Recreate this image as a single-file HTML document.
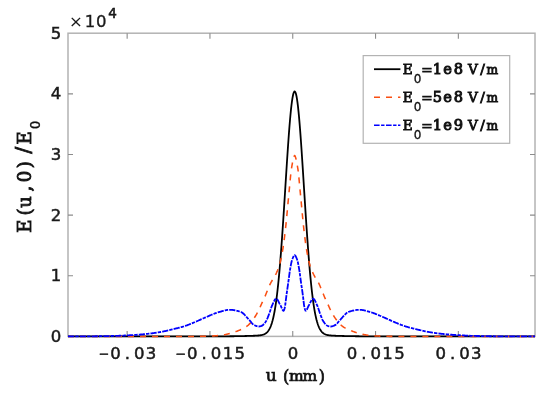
<!DOCTYPE html><html><head><meta charset="utf-8"><style>html,body{margin:0;padding:0;background:#fff;width:550px;height:397px;overflow:hidden}svg{display:block}</style></head><body><svg width="550" height="397" viewBox="0 0 550 397">
<rect width="550" height="397" fill="#fff"/>
<defs><clipPath id="ax"><rect x="68.0" y="31.200000000000003" width="467.0" height="307.2"/></clipPath></defs>
<g stroke="#b3b3b3" stroke-width="1.5" fill="none">
<rect x="68.0" y="33.2" width="467.0" height="303.2"/>
<path d="M127.15 336.4V330.9M127.15 33.2V38.7M209.95 336.4V330.9M209.95 33.2V38.7M292.75 336.4V330.9M292.75 33.2V38.7M375.55 336.4V330.9M375.55 33.2V38.7M458.35 336.4V330.9M458.35 33.2V38.7M68.0 275.76H73.0M535.0 275.76H530.0M68.0 215.12H73.0M535.0 215.12H530.0M68.0 154.48H73.0M535.0 154.48H530.0M68.0 93.84H73.0M535.0 93.84H530.0" stroke="#8c8c8c" stroke-width="1.1"/>
</g>
<g clip-path="url(#ax)" fill="none" stroke-width="1.7" stroke-linejoin="round">
<path d="M68.0 336.40 L68.5 336.40 L69.0 336.40 L69.5 336.40 L70.0 336.40 L70.5 336.40 L71.0 336.40 L71.5 336.40 L72.0 336.40 L72.5 336.40 L73.0 336.40 L73.5 336.40 L74.0 336.40 L74.5 336.40 L75.0 336.40 L75.5 336.40 L76.0 336.40 L76.5 336.40 L77.0 336.40 L77.5 336.40 L78.0 336.40 L78.5 336.40 L79.0 336.40 L79.5 336.40 L80.0 336.40 L80.5 336.40 L81.0 336.40 L81.5 336.40 L82.0 336.40 L82.5 336.40 L83.0 336.40 L83.5 336.40 L84.0 336.40 L84.5 336.40 L85.0 336.40 L85.5 336.40 L86.0 336.40 L86.5 336.40 L87.0 336.40 L87.5 336.40 L88.0 336.40 L88.5 336.40 L89.0 336.40 L89.5 336.40 L90.0 336.40 L90.5 336.40 L91.0 336.40 L91.5 336.40 L92.0 336.40 L92.5 336.40 L93.0 336.40 L93.5 336.40 L94.0 336.40 L94.5 336.40 L95.0 336.40 L95.5 336.40 L96.0 336.40 L96.5 336.40 L97.0 336.40 L97.5 336.40 L98.0 336.40 L98.5 336.40 L99.0 336.40 L99.5 336.40 L100.0 336.40 L100.5 336.40 L101.0 336.40 L101.5 336.40 L102.0 336.40 L102.5 336.40 L103.0 336.40 L103.5 336.40 L104.0 336.40 L104.5 336.40 L105.0 336.40 L105.5 336.40 L106.0 336.40 L106.5 336.40 L107.0 336.40 L107.5 336.40 L108.0 336.40 L108.5 336.40 L109.0 336.40 L109.5 336.40 L110.0 336.40 L110.5 336.40 L111.0 336.40 L111.5 336.40 L112.0 336.40 L112.5 336.40 L113.0 336.40 L113.5 336.40 L114.0 336.40 L114.5 336.40 L115.0 336.40 L115.5 336.40 L116.0 336.40 L116.5 336.40 L117.0 336.40 L117.5 336.40 L118.0 336.40 L118.5 336.40 L119.0 336.40 L119.5 336.40 L120.0 336.40 L120.5 336.40 L121.0 336.40 L121.5 336.40 L122.0 336.40 L122.5 336.40 L123.0 336.40 L123.5 336.40 L124.0 336.40 L124.5 336.40 L125.0 336.40 L125.5 336.40 L126.0 336.40 L126.5 336.40 L127.0 336.40 L127.5 336.40 L128.0 336.40 L128.5 336.40 L129.0 336.40 L129.5 336.40 L130.0 336.40 L130.5 336.40 L131.0 336.40 L131.5 336.40 L132.0 336.40 L132.5 336.40 L133.0 336.40 L133.5 336.40 L134.0 336.40 L134.5 336.40 L135.0 336.40 L135.5 336.40 L136.0 336.40 L136.5 336.40 L137.0 336.40 L137.5 336.40 L138.0 336.40 L138.5 336.40 L139.0 336.40 L139.5 336.40 L140.0 336.40 L140.5 336.40 L141.0 336.40 L141.5 336.40 L142.0 336.40 L142.5 336.40 L143.0 336.40 L143.5 336.40 L144.0 336.40 L144.5 336.40 L145.0 336.40 L145.5 336.40 L146.0 336.40 L146.5 336.40 L147.0 336.40 L147.5 336.40 L148.0 336.40 L148.5 336.40 L149.0 336.40 L149.5 336.40 L150.0 336.40 L150.5 336.40 L151.0 336.40 L151.5 336.40 L152.0 336.40 L152.5 336.40 L153.0 336.40 L153.5 336.40 L154.0 336.40 L154.5 336.40 L155.0 336.40 L155.5 336.40 L156.0 336.40 L156.5 336.40 L157.0 336.40 L157.5 336.40 L158.0 336.40 L158.5 336.40 L159.0 336.40 L159.5 336.40 L160.0 336.40 L160.5 336.40 L161.0 336.40 L161.5 336.40 L162.0 336.40 L162.5 336.40 L163.0 336.40 L163.5 336.40 L164.0 336.40 L164.5 336.40 L165.0 336.40 L165.5 336.40 L166.0 336.40 L166.5 336.40 L167.0 336.40 L167.5 336.40 L168.0 336.40 L168.5 336.40 L169.0 336.40 L169.5 336.40 L170.0 336.40 L170.5 336.40 L171.0 336.40 L171.5 336.40 L172.0 336.40 L172.5 336.40 L173.0 336.40 L173.5 336.40 L174.0 336.40 L174.5 336.40 L175.0 336.40 L175.5 336.40 L176.0 336.40 L176.5 336.40 L177.0 336.40 L177.5 336.40 L178.0 336.40 L178.5 336.40 L179.0 336.40 L179.5 336.40 L180.0 336.40 L180.5 336.40 L181.0 336.40 L181.5 336.40 L182.0 336.40 L182.5 336.40 L183.0 336.40 L183.5 336.40 L184.0 336.40 L184.5 336.40 L185.0 336.40 L185.5 336.40 L186.0 336.40 L186.5 336.40 L187.0 336.40 L187.5 336.40 L188.0 336.40 L188.5 336.40 L189.0 336.40 L189.5 336.40 L190.0 336.40 L190.5 336.40 L191.0 336.40 L191.5 336.40 L192.0 336.40 L192.5 336.40 L193.0 336.40 L193.5 336.40 L194.0 336.40 L194.5 336.40 L195.0 336.40 L195.5 336.40 L196.0 336.40 L196.5 336.40 L197.0 336.40 L197.5 336.40 L198.0 336.40 L198.5 336.39 L199.0 336.39 L199.5 336.39 L200.0 336.39 L200.5 336.39 L201.0 336.39 L201.5 336.39 L202.0 336.39 L202.5 336.39 L203.0 336.39 L203.5 336.39 L204.0 336.39 L204.5 336.39 L205.0 336.39 L205.5 336.39 L206.0 336.39 L206.5 336.39 L207.0 336.39 L207.5 336.39 L208.0 336.38 L208.5 336.38 L209.0 336.38 L209.5 336.38 L210.0 336.38 L210.5 336.38 L211.0 336.38 L211.5 336.38 L212.0 336.38 L212.5 336.38 L213.0 336.37 L213.5 336.37 L214.0 336.37 L214.5 336.37 L215.0 336.37 L215.5 336.37 L216.0 336.36 L216.5 336.36 L217.0 336.36 L217.5 336.36 L218.0 336.36 L218.5 336.35 L219.0 336.35 L219.5 336.35 L220.0 336.35 L220.5 336.35 L221.0 336.34 L221.5 336.34 L222.0 336.34 L222.5 336.33 L223.0 336.33 L223.5 336.33 L224.0 336.32 L224.5 336.32 L225.0 336.32 L225.5 336.31 L226.0 336.31 L226.5 336.31 L227.0 336.30 L227.5 336.30 L228.0 336.29 L228.5 336.29 L229.0 336.28 L229.5 336.28 L230.0 336.27 L230.5 336.27 L231.0 336.26 L231.5 336.26 L232.0 336.25 L232.5 336.25 L233.0 336.24 L233.5 336.23 L234.0 336.23 L234.5 336.22 L235.0 336.21 L235.5 336.20 L236.0 336.20 L236.5 336.19 L237.0 336.18 L237.5 336.17 L238.0 336.17 L238.5 336.16 L239.0 336.15 L239.5 336.14 L240.0 336.13 L240.5 336.12 L241.0 336.11 L241.5 336.10 L242.0 336.09 L242.5 336.08 L243.0 336.07 L243.5 336.06 L244.0 336.05 L244.5 336.03 L245.0 336.02 L245.5 336.01 L246.0 336.00 L246.5 335.98 L247.0 335.97 L247.5 335.96 L248.0 335.95 L248.5 335.93 L249.0 335.92 L249.5 335.90 L250.0 335.89 L250.5 335.87 L251.0 335.86 L251.5 335.84 L252.0 335.82 L252.5 335.81 L253.0 335.79 L253.5 335.77 L254.0 335.75 L254.5 335.73 L255.0 335.71 L255.5 335.68 L256.0 335.66 L256.5 335.63 L257.0 335.60 L257.5 335.56 L258.0 335.52 L258.5 335.48 L259.0 335.43 L259.5 335.38 L260.0 335.32 L260.5 335.25 L261.0 335.17 L261.5 335.07 L262.0 334.97 L262.5 334.84 L263.0 334.70 L263.5 334.53 L264.0 334.34 L264.5 334.11 L265.0 333.85 L265.5 333.55 L266.0 333.21 L266.5 332.81 L267.0 332.36 L267.5 331.83 L268.0 331.24 L268.5 330.56 L269.0 329.78 L269.5 328.91 L270.0 327.91 L270.5 326.80 L271.0 325.54 L271.5 324.13 L272.0 322.56 L272.5 320.81 L273.0 318.87 L273.5 316.72 L274.0 314.35 L274.5 311.74 L275.0 308.89 L275.5 305.77 L276.0 302.39 L276.5 298.72 L277.0 294.75 L277.5 290.48 L278.0 285.91 L278.5 281.02 L279.0 275.83 L279.5 270.32 L280.0 264.50 L280.5 258.38 L281.0 251.97 L281.5 245.29 L282.0 238.34 L282.5 231.16 L283.0 223.78 L283.5 216.20 L284.0 208.48 L284.5 200.65 L285.0 192.75 L285.5 184.81 L286.0 176.89 L286.5 169.03 L287.0 161.28 L287.5 153.69 L288.0 146.32 L288.5 139.22 L289.0 132.43 L289.5 126.01 L290.0 120.01 L290.5 114.48 L291.0 109.45 L291.5 104.98 L292.0 101.10 L292.5 97.83 L293.0 95.21 L293.5 93.27 L294.0 92.01 L294.5 91.45 L295.0 91.59 L295.5 92.43 L296.0 93.97 L296.5 96.18 L297.0 99.06 L297.5 102.58 L298.0 106.70 L298.5 111.40 L299.0 116.63 L299.5 122.36 L300.0 128.53 L300.5 135.10 L301.0 142.02 L301.5 149.24 L302.0 156.70 L302.5 164.36 L303.0 172.16 L303.5 180.05 L304.0 187.98 L304.5 195.91 L305.0 203.80 L305.5 211.59 L306.0 219.25 L306.5 226.75 L307.0 234.06 L307.5 241.15 L308.0 247.99 L308.5 254.57 L309.0 260.86 L309.5 266.86 L310.0 272.56 L310.5 277.94 L311.0 283.02 L311.5 287.78 L312.0 292.23 L312.5 296.37 L313.0 300.22 L313.5 303.77 L314.0 307.05 L314.5 310.06 L315.0 312.81 L315.5 315.32 L316.0 317.60 L316.5 319.67 L317.0 321.53 L317.5 323.21 L318.0 324.72 L318.5 326.06 L319.0 327.26 L319.5 328.33 L320.0 329.27 L320.5 330.10 L321.0 330.84 L321.5 331.49 L322.0 332.05 L322.5 332.55 L323.0 332.98 L323.5 333.35 L324.0 333.68 L324.5 333.96 L325.0 334.21 L325.5 334.42 L326.0 334.60 L326.5 334.76 L327.0 334.89 L327.5 335.01 L328.0 335.11 L328.5 335.20 L329.0 335.28 L329.5 335.34 L330.0 335.40 L330.5 335.45 L331.0 335.50 L331.5 335.54 L332.0 335.58 L332.5 335.61 L333.0 335.64 L333.5 335.67 L334.0 335.69 L334.5 335.71 L335.0 335.74 L335.5 335.76 L336.0 335.78 L336.5 335.79 L337.0 335.81 L337.5 335.83 L338.0 335.85 L338.5 335.86 L339.0 335.88 L339.5 335.89 L340.0 335.91 L340.5 335.92 L341.0 335.94 L341.5 335.95 L342.0 335.96 L342.5 335.98 L343.0 335.99 L343.5 336.00 L344.0 336.01 L344.5 336.03 L345.0 336.04 L345.5 336.05 L346.0 336.06 L346.5 336.07 L347.0 336.08 L347.5 336.09 L348.0 336.10 L348.5 336.11 L349.0 336.12 L349.5 336.13 L350.0 336.14 L350.5 336.15 L351.0 336.16 L351.5 336.17 L352.0 336.18 L352.5 336.18 L353.0 336.19 L353.5 336.20 L354.0 336.21 L354.5 336.21 L355.0 336.22 L355.5 336.23 L356.0 336.24 L356.5 336.24 L357.0 336.25 L357.5 336.25 L358.0 336.26 L358.5 336.26 L359.0 336.27 L359.5 336.28 L360.0 336.28 L360.5 336.29 L361.0 336.29 L361.5 336.29 L362.0 336.30 L362.5 336.30 L363.0 336.31 L363.5 336.31 L364.0 336.32 L364.5 336.32 L365.0 336.32 L365.5 336.33 L366.0 336.33 L366.5 336.33 L367.0 336.34 L367.5 336.34 L368.0 336.34 L368.5 336.34 L369.0 336.35 L369.5 336.35 L370.0 336.35 L370.5 336.35 L371.0 336.36 L371.5 336.36 L372.0 336.36 L372.5 336.36 L373.0 336.36 L373.5 336.37 L374.0 336.37 L374.5 336.37 L375.0 336.37 L375.5 336.37 L376.0 336.37 L376.5 336.37 L377.0 336.38 L377.5 336.38 L378.0 336.38 L378.5 336.38 L379.0 336.38 L379.5 336.38 L380.0 336.38 L380.5 336.38 L381.0 336.38 L381.5 336.39 L382.0 336.39 L382.5 336.39 L383.0 336.39 L383.5 336.39 L384.0 336.39 L384.5 336.39 L385.0 336.39 L385.5 336.39 L386.0 336.39 L386.5 336.39 L387.0 336.39 L387.5 336.39 L388.0 336.39 L388.5 336.39 L389.0 336.39 L389.5 336.39 L390.0 336.39 L390.5 336.39 L391.0 336.40 L391.5 336.40 L392.0 336.40 L392.5 336.40 L393.0 336.40 L393.5 336.40 L394.0 336.40 L394.5 336.40 L395.0 336.40 L395.5 336.40 L396.0 336.40 L396.5 336.40 L397.0 336.40 L397.5 336.40 L398.0 336.40 L398.5 336.40 L399.0 336.40 L399.5 336.40 L400.0 336.40 L400.5 336.40 L401.0 336.40 L401.5 336.40 L402.0 336.40 L402.5 336.40 L403.0 336.40 L403.5 336.40 L404.0 336.40 L404.5 336.40 L405.0 336.40 L405.5 336.40 L406.0 336.40 L406.5 336.40 L407.0 336.40 L407.5 336.40 L408.0 336.40 L408.5 336.40 L409.0 336.40 L409.5 336.40 L410.0 336.40 L410.5 336.40 L411.0 336.40 L411.5 336.40 L412.0 336.40 L412.5 336.40 L413.0 336.40 L413.5 336.40 L414.0 336.40 L414.5 336.40 L415.0 336.40 L415.5 336.40 L416.0 336.40 L416.5 336.40 L417.0 336.40 L417.5 336.40 L418.0 336.40 L418.5 336.40 L419.0 336.40 L419.5 336.40 L420.0 336.40 L420.5 336.40 L421.0 336.40 L421.5 336.40 L422.0 336.40 L422.5 336.40 L423.0 336.40 L423.5 336.40 L424.0 336.40 L424.5 336.40 L425.0 336.40 L425.5 336.40 L426.0 336.40 L426.5 336.40 L427.0 336.40 L427.5 336.40 L428.0 336.40 L428.5 336.40 L429.0 336.40 L429.5 336.40 L430.0 336.40 L430.5 336.40 L431.0 336.40 L431.5 336.40 L432.0 336.40 L432.5 336.40 L433.0 336.40 L433.5 336.40 L434.0 336.40 L434.5 336.40 L435.0 336.40 L435.5 336.40 L436.0 336.40 L436.5 336.40 L437.0 336.40 L437.5 336.40 L438.0 336.40 L438.5 336.40 L439.0 336.40 L439.5 336.40 L440.0 336.40 L440.5 336.40 L441.0 336.40 L441.5 336.40 L442.0 336.40 L442.5 336.40 L443.0 336.40 L443.5 336.40 L444.0 336.40 L444.5 336.40 L445.0 336.40 L445.5 336.40 L446.0 336.40 L446.5 336.40 L447.0 336.40 L447.5 336.40 L448.0 336.40 L448.5 336.40 L449.0 336.40 L449.5 336.40 L450.0 336.40 L450.5 336.40 L451.0 336.40 L451.5 336.40 L452.0 336.40 L452.5 336.40 L453.0 336.40 L453.5 336.40 L454.0 336.40 L454.5 336.40 L455.0 336.40 L455.5 336.40 L456.0 336.40 L456.5 336.40 L457.0 336.40 L457.5 336.40 L458.0 336.40 L458.5 336.40 L459.0 336.40 L459.5 336.40 L460.0 336.40 L460.5 336.40 L461.0 336.40 L461.5 336.40 L462.0 336.40 L462.5 336.40 L463.0 336.40 L463.5 336.40 L464.0 336.40 L464.5 336.40 L465.0 336.40 L465.5 336.40 L466.0 336.40 L466.5 336.40 L467.0 336.40 L467.5 336.40 L468.0 336.40 L468.5 336.40 L469.0 336.40 L469.5 336.40 L470.0 336.40 L470.5 336.40 L471.0 336.40 L471.5 336.40 L472.0 336.40 L472.5 336.40 L473.0 336.40 L473.5 336.40 L474.0 336.40 L474.5 336.40 L475.0 336.40 L475.5 336.40 L476.0 336.40 L476.5 336.40 L477.0 336.40 L477.5 336.40 L478.0 336.40 L478.5 336.40 L479.0 336.40 L479.5 336.40 L480.0 336.40 L480.5 336.40 L481.0 336.40 L481.5 336.40 L482.0 336.40 L482.5 336.40 L483.0 336.40 L483.5 336.40 L484.0 336.40 L484.5 336.40 L485.0 336.40 L485.5 336.40 L486.0 336.40 L486.5 336.40 L487.0 336.40 L487.5 336.40 L488.0 336.40 L488.5 336.40 L489.0 336.40 L489.5 336.40 L490.0 336.40 L490.5 336.40 L491.0 336.40 L491.5 336.40 L492.0 336.40 L492.5 336.40 L493.0 336.40 L493.5 336.40 L494.0 336.40 L494.5 336.40 L495.0 336.40 L495.5 336.40 L496.0 336.40 L496.5 336.40 L497.0 336.40 L497.5 336.40 L498.0 336.40 L498.5 336.40 L499.0 336.40 L499.5 336.40 L500.0 336.40 L500.5 336.40 L501.0 336.40 L501.5 336.40 L502.0 336.40 L502.5 336.40 L503.0 336.40 L503.5 336.40 L504.0 336.40 L504.5 336.40 L505.0 336.40 L505.5 336.40 L506.0 336.40 L506.5 336.40 L507.0 336.40 L507.5 336.40 L508.0 336.40 L508.5 336.40 L509.0 336.40 L509.5 336.40 L510.0 336.40 L510.5 336.40 L511.0 336.40 L511.5 336.40 L512.0 336.40 L512.5 336.40 L513.0 336.40 L513.5 336.40 L514.0 336.40 L514.5 336.40 L515.0 336.40 L515.5 336.40 L516.0 336.40 L516.5 336.40 L517.0 336.40 L517.5 336.40 L518.0 336.40 L518.5 336.40 L519.0 336.40 L519.5 336.40 L520.0 336.40 L520.5 336.40 L521.0 336.40 L521.5 336.40 L522.0 336.40 L522.5 336.40 L523.0 336.40 L523.5 336.40 L524.0 336.40 L524.5 336.40 L525.0 336.40 L525.5 336.40 L526.0 336.40 L526.5 336.40 L527.0 336.40 L527.5 336.40 L528.0 336.40 L528.5 336.40 L529.0 336.40 L529.5 336.40 L530.0 336.40 L530.5 336.40 L531.0 336.40 L531.5 336.40 L532.0 336.40 L532.5 336.40 L533.0 336.40 L533.5 336.40 L534.0 336.40 L534.5 336.40 L535.0 336.40" stroke="#000" stroke-width="1.8"/>
<path d="M68.0 336.40 L68.5 336.40 L69.0 336.40 L69.5 336.40 L70.0 336.40 L70.5 336.40 L71.0 336.40 L71.5 336.40 L72.0 336.40 L72.5 336.40 L73.0 336.40 L73.5 336.40 L74.0 336.40 L74.5 336.40 L75.0 336.40 L75.5 336.40 L76.0 336.40 L76.5 336.40 L77.0 336.40 L77.5 336.40 L78.0 336.40 L78.5 336.40 L79.0 336.40 L79.5 336.40 L80.0 336.40 L80.5 336.40 L81.0 336.40 L81.5 336.40 L82.0 336.40 L82.5 336.40 L83.0 336.40 L83.5 336.40 L84.0 336.40 L84.5 336.40 L85.0 336.40 L85.5 336.40 L86.0 336.40 L86.5 336.40 L87.0 336.40 L87.5 336.40 L88.0 336.40 L88.5 336.40 L89.0 336.40 L89.5 336.40 L90.0 336.40 L90.5 336.40 L91.0 336.40 L91.5 336.40 L92.0 336.40 L92.5 336.40 L93.0 336.40 L93.5 336.40 L94.0 336.40 L94.5 336.40 L95.0 336.40 L95.5 336.40 L96.0 336.40 L96.5 336.40 L97.0 336.40 L97.5 336.40 L98.0 336.40 L98.5 336.40 L99.0 336.40 L99.5 336.40 L100.0 336.40 L100.5 336.40 L101.0 336.40 L101.5 336.40 L102.0 336.40 L102.5 336.40 L103.0 336.40 L103.5 336.40 L104.0 336.40 L104.5 336.40 L105.0 336.40 L105.5 336.40 L106.0 336.40 L106.5 336.40 L107.0 336.40 L107.5 336.40 L108.0 336.40 L108.5 336.40 L109.0 336.40 L109.5 336.40 L110.0 336.40 L110.5 336.40 L111.0 336.40 L111.5 336.40 L112.0 336.40 L112.5 336.40 L113.0 336.40 L113.5 336.40 L114.0 336.40 L114.5 336.40 L115.0 336.40 L115.5 336.40 L116.0 336.40 L116.5 336.40 L117.0 336.40 L117.5 336.40 L118.0 336.40 L118.5 336.40 L119.0 336.40 L119.5 336.40 L120.0 336.40 L120.5 336.40 L121.0 336.40 L121.5 336.40 L122.0 336.40 L122.5 336.40 L123.0 336.40 L123.5 336.40 L124.0 336.40 L124.5 336.40 L125.0 336.40 L125.5 336.40 L126.0 336.40 L126.5 336.40 L127.0 336.40 L127.5 336.40 L128.0 336.40 L128.5 336.40 L129.0 336.40 L129.5 336.40 L130.0 336.40 L130.5 336.40 L131.0 336.40 L131.5 336.40 L132.0 336.40 L132.5 336.40 L133.0 336.40 L133.5 336.40 L134.0 336.40 L134.5 336.40 L135.0 336.40 L135.5 336.40 L136.0 336.40 L136.5 336.40 L137.0 336.40 L137.5 336.40 L138.0 336.40 L138.5 336.40 L139.0 336.40 L139.5 336.40 L140.0 336.40 L140.5 336.40 L141.0 336.40 L141.5 336.40 L142.0 336.40 L142.5 336.40 L143.0 336.40 L143.5 336.40 L144.0 336.40 L144.5 336.40 L145.0 336.40 L145.5 336.40 L146.0 336.40 L146.5 336.40 L147.0 336.40 L147.5 336.40 L148.0 336.40 L148.5 336.40 L149.0 336.40 L149.5 336.40 L150.0 336.40 L150.5 336.40 L151.0 336.40 L151.5 336.40 L152.0 336.40 L152.5 336.40 L153.0 336.40 L153.5 336.40 L154.0 336.40 L154.5 336.40 L155.0 336.40 L155.5 336.40 L156.0 336.40 L156.5 336.40 L157.0 336.40 L157.5 336.40 L158.0 336.40 L158.5 336.40 L159.0 336.40 L159.5 336.40 L160.0 336.40 L160.5 336.40 L161.0 336.40 L161.5 336.40 L162.0 336.40 L162.5 336.40 L163.0 336.40 L163.5 336.40 L164.0 336.40 L164.5 336.40 L165.0 336.40 L165.5 336.40 L166.0 336.40 L166.5 336.40 L167.0 336.40 L167.5 336.40 L168.0 336.40 L168.5 336.40 L169.0 336.40 L169.5 336.40 L170.0 336.40 L170.5 336.40 L171.0 336.40 L171.5 336.40 L172.0 336.40 L172.5 336.40 L173.0 336.40 L173.5 336.40 L174.0 336.40 L174.5 336.40 L175.0 336.40 L175.5 336.40 L176.0 336.40 L176.5 336.40 L177.0 336.40 L177.5 336.40 L178.0 336.40 L178.5 336.40 L179.0 336.40 L179.5 336.40 L180.0 336.40 L180.5 336.40 L181.0 336.40 L181.5 336.40 L182.0 336.40 L182.5 336.40 L183.0 336.40 L183.5 336.40 L184.0 336.40 L184.5 336.40 L185.0 336.40 L185.5 336.40 L186.0 336.40 L186.5 336.40 L187.0 336.40 L187.5 336.40 L188.0 336.40 L188.5 336.40 L189.0 336.40 L189.5 336.40 L190.0 336.40 L190.5 336.40 L191.0 336.40 L191.5 336.40 L192.0 336.40 L192.5 336.40 L193.0 336.40 L193.5 336.40 L194.0 336.40 L194.5 336.40 L195.0 336.40 L195.5 336.40 L196.0 336.40 L196.5 336.39 L197.0 336.39 L197.5 336.39 L198.0 336.38 L198.5 336.38 L199.0 336.37 L199.5 336.36 L200.0 336.36 L200.5 336.35 L201.0 336.34 L201.5 336.34 L202.0 336.33 L202.5 336.32 L203.0 336.31 L203.5 336.30 L204.0 336.29 L204.5 336.28 L205.0 336.27 L205.5 336.26 L206.0 336.25 L206.5 336.23 L207.0 336.22 L207.5 336.20 L208.0 336.18 L208.5 336.16 L209.0 336.14 L209.5 336.12 L210.0 336.10 L210.5 336.08 L211.0 336.05 L211.5 336.03 L212.0 336.00 L212.5 335.98 L213.0 335.95 L213.5 335.92 L214.0 335.89 L214.5 335.86 L215.0 335.83 L215.5 335.80 L216.0 335.76 L216.5 335.73 L217.0 335.69 L217.5 335.64 L218.0 335.60 L218.5 335.55 L219.0 335.50 L219.5 335.45 L220.0 335.39 L220.5 335.33 L221.0 335.27 L221.5 335.20 L222.0 335.13 L222.5 335.06 L223.0 334.98 L223.5 334.90 L224.0 334.82 L224.5 334.73 L225.0 334.64 L225.5 334.54 L226.0 334.44 L226.5 334.33 L227.0 334.21 L227.5 334.09 L228.0 333.97 L228.5 333.85 L229.0 333.72 L229.5 333.59 L230.0 333.46 L230.5 333.32 L231.0 333.18 L231.5 333.03 L232.0 332.89 L232.5 332.73 L233.0 332.58 L233.5 332.41 L234.0 332.25 L234.5 332.08 L235.0 331.91 L235.5 331.74 L236.0 331.55 L236.5 331.36 L237.0 331.17 L237.5 330.98 L238.0 330.78 L238.5 330.58 L239.0 330.38 L239.5 330.18 L240.0 329.98 L240.5 329.78 L241.0 329.57 L241.5 329.36 L242.0 329.13 L242.5 328.89 L243.0 328.64 L243.5 328.38 L244.0 328.10 L244.5 327.81 L245.0 327.51 L245.5 327.19 L246.0 326.86 L246.5 326.50 L247.0 326.13 L247.5 325.73 L248.0 325.31 L248.5 324.87 L249.0 324.40 L249.5 323.90 L250.0 323.39 L250.5 322.86 L251.0 322.30 L251.5 321.71 L252.0 321.08 L252.5 320.41 L253.0 319.72 L253.5 319.01 L254.0 318.28 L254.5 317.53 L255.0 316.76 L255.5 315.97 L256.0 315.14 L256.5 314.29 L257.0 313.42 L257.5 312.51 L258.0 311.58 L258.5 310.62 L259.0 309.62 L259.5 308.54 L260.0 307.41 L260.5 306.26 L261.0 305.11 L261.5 303.98 L262.0 302.90 L262.5 301.85 L263.0 300.82 L263.5 299.78 L264.0 298.72 L264.5 297.62 L265.0 296.48 L265.5 295.29 L266.0 294.06 L266.5 292.82 L267.0 291.58 L267.5 290.37 L268.0 289.17 L268.5 287.94 L269.0 286.71 L269.5 285.51 L270.0 284.38 L270.5 283.33 L271.0 282.40 L271.5 281.56 L272.0 280.78 L272.5 280.03 L273.0 279.26 L273.5 278.44 L274.0 277.57 L274.5 276.68 L275.0 275.77 L275.5 274.82 L276.0 273.82 L276.5 272.76 L277.0 271.63 L277.5 270.44 L278.0 269.17 L278.5 267.82 L279.0 266.35 L279.5 264.75 L280.0 262.98 L280.5 261.00 L281.0 258.82 L281.5 256.43 L282.0 253.86 L282.5 251.10 L283.0 248.10 L283.5 244.73 L284.0 241.03 L284.5 237.06 L285.0 232.88 L285.5 228.56 L286.0 224.04 L286.5 219.09 L287.0 213.85 L287.5 208.45 L288.0 203.07 L288.5 197.85 L289.0 192.73 L289.5 187.31 L290.0 181.86 L290.5 176.66 L291.0 172.04 L291.5 168.28 L292.0 165.40 L292.5 162.73 L293.0 160.30 L293.5 158.21 L294.0 156.57 L294.5 155.45 L295.0 155.83 L295.5 157.17 L296.0 159.00 L296.5 161.23 L297.0 163.77 L297.5 166.52 L298.0 169.66 L298.5 173.80 L299.0 178.69 L299.5 184.02 L300.0 189.50 L300.5 194.82 L301.0 199.91 L301.5 205.21 L302.0 210.62 L302.5 215.97 L303.0 221.12 L303.5 225.91 L304.0 230.30 L304.5 234.57 L305.0 238.67 L305.5 242.54 L306.0 246.12 L306.5 249.35 L307.0 252.22 L307.5 254.91 L308.0 257.41 L308.5 259.71 L309.0 261.82 L309.5 263.71 L310.0 265.41 L310.5 266.95 L311.0 268.37 L311.5 269.69 L312.0 270.92 L312.5 272.08 L313.0 273.19 L313.5 274.23 L314.0 275.21 L314.5 276.14 L315.0 277.04 L315.5 277.92 L316.0 278.78 L316.5 279.57 L317.0 280.33 L317.5 281.09 L318.0 281.89 L318.5 282.76 L319.0 283.73 L319.5 284.82 L320.0 285.99 L320.5 287.20 L321.0 288.43 L321.5 289.65 L322.0 290.85 L322.5 292.08 L323.0 293.32 L323.5 294.55 L324.0 295.77 L324.5 296.94 L325.0 298.07 L325.5 299.14 L326.0 300.19 L326.5 301.23 L327.0 302.27 L327.5 303.33 L328.0 304.43 L328.5 305.57 L329.0 306.72 L329.5 307.87 L330.0 308.98 L330.5 310.03 L331.0 311.01 L331.5 311.96 L332.0 312.88 L332.5 313.77 L333.0 314.64 L333.5 315.48 L334.0 316.29 L334.5 317.07 L335.0 317.83 L335.5 318.57 L336.0 319.30 L336.5 320.00 L337.0 320.68 L337.5 321.33 L338.0 321.95 L338.5 322.53 L339.0 323.07 L339.5 323.60 L340.0 324.10 L340.5 324.59 L341.0 325.05 L341.5 325.48 L342.0 325.90 L342.5 326.28 L343.0 326.65 L343.5 326.99 L344.0 327.32 L344.5 327.63 L345.0 327.93 L345.5 328.21 L346.0 328.49 L346.5 328.74 L347.0 328.99 L347.5 329.22 L348.0 329.44 L348.5 329.66 L349.0 329.86 L349.5 330.06 L350.0 330.26 L350.5 330.46 L351.0 330.66 L351.5 330.86 L352.0 331.05 L352.5 331.25 L353.0 331.44 L353.5 331.63 L354.0 331.81 L354.5 331.98 L355.0 332.15 L355.5 332.32 L356.0 332.48 L356.5 332.64 L357.0 332.79 L357.5 332.95 L358.0 333.09 L358.5 333.24 L359.0 333.38 L359.5 333.51 L360.0 333.64 L360.5 333.77 L361.0 333.90 L361.5 334.02 L362.0 334.14 L362.5 334.26 L363.0 334.37 L363.5 334.48 L364.0 334.58 L364.5 334.67 L365.0 334.76 L365.5 334.85 L366.0 334.93 L366.5 335.01 L367.0 335.09 L367.5 335.16 L368.0 335.23 L368.5 335.30 L369.0 335.36 L369.5 335.41 L370.0 335.47 L370.5 335.52 L371.0 335.57 L371.5 335.61 L372.0 335.66 L372.5 335.70 L373.0 335.74 L373.5 335.78 L374.0 335.81 L374.5 335.85 L375.0 335.87 L375.5 335.90 L376.0 335.93 L376.5 335.96 L377.0 335.99 L377.5 336.01 L378.0 336.04 L378.5 336.06 L379.0 336.09 L379.5 336.11 L380.0 336.13 L380.5 336.15 L381.0 336.17 L381.5 336.19 L382.0 336.21 L382.5 336.22 L383.0 336.24 L383.5 336.25 L384.0 336.27 L384.5 336.28 L385.0 336.29 L385.5 336.29 L386.0 336.30 L386.5 336.31 L387.0 336.32 L387.5 336.33 L388.0 336.34 L388.5 336.35 L389.0 336.35 L389.5 336.36 L390.0 336.37 L390.5 336.37 L391.0 336.38 L391.5 336.38 L392.0 336.39 L392.5 336.39 L393.0 336.40 L393.5 336.40 L394.0 336.40 L394.5 336.40 L395.0 336.40 L395.5 336.40 L396.0 336.40 L396.5 336.40 L397.0 336.40 L397.5 336.40 L398.0 336.40 L398.5 336.40 L399.0 336.40 L399.5 336.40 L400.0 336.40 L400.5 336.40 L401.0 336.40 L401.5 336.40 L402.0 336.40 L402.5 336.40 L403.0 336.40 L403.5 336.40 L404.0 336.40 L404.5 336.40 L405.0 336.40 L405.5 336.40 L406.0 336.40 L406.5 336.40 L407.0 336.40 L407.5 336.40 L408.0 336.40 L408.5 336.40 L409.0 336.40 L409.5 336.40 L410.0 336.40 L410.5 336.40 L411.0 336.40 L411.5 336.40 L412.0 336.40 L412.5 336.40 L413.0 336.40 L413.5 336.40 L414.0 336.40 L414.5 336.40 L415.0 336.40 L415.5 336.40 L416.0 336.40 L416.5 336.40 L417.0 336.40 L417.5 336.40 L418.0 336.40 L418.5 336.40 L419.0 336.40 L419.5 336.40 L420.0 336.40 L420.5 336.40 L421.0 336.40 L421.5 336.40 L422.0 336.40 L422.5 336.40 L423.0 336.40 L423.5 336.40 L424.0 336.40 L424.5 336.40 L425.0 336.40 L425.5 336.40 L426.0 336.40 L426.5 336.40 L427.0 336.40 L427.5 336.40 L428.0 336.40 L428.5 336.40 L429.0 336.40 L429.5 336.40 L430.0 336.40 L430.5 336.40 L431.0 336.40 L431.5 336.40 L432.0 336.40 L432.5 336.40 L433.0 336.40 L433.5 336.40 L434.0 336.40 L434.5 336.40 L435.0 336.40 L435.5 336.40 L436.0 336.40 L436.5 336.40 L437.0 336.40 L437.5 336.40 L438.0 336.40 L438.5 336.40 L439.0 336.40 L439.5 336.40 L440.0 336.40 L440.5 336.40 L441.0 336.40 L441.5 336.40 L442.0 336.40 L442.5 336.40 L443.0 336.40 L443.5 336.40 L444.0 336.40 L444.5 336.40 L445.0 336.40 L445.5 336.40 L446.0 336.40 L446.5 336.40 L447.0 336.40 L447.5 336.40 L448.0 336.40 L448.5 336.40 L449.0 336.40 L449.5 336.40 L450.0 336.40 L450.5 336.40 L451.0 336.40 L451.5 336.40 L452.0 336.40 L452.5 336.40 L453.0 336.40 L453.5 336.40 L454.0 336.40 L454.5 336.40 L455.0 336.40 L455.5 336.40 L456.0 336.40 L456.5 336.40 L457.0 336.40 L457.5 336.40 L458.0 336.40 L458.5 336.40 L459.0 336.40 L459.5 336.40 L460.0 336.40 L460.5 336.40 L461.0 336.40 L461.5 336.40 L462.0 336.40 L462.5 336.40 L463.0 336.40 L463.5 336.40 L464.0 336.40 L464.5 336.40 L465.0 336.40 L465.5 336.40 L466.0 336.40 L466.5 336.40 L467.0 336.40 L467.5 336.40 L468.0 336.40 L468.5 336.40 L469.0 336.40 L469.5 336.40 L470.0 336.40 L470.5 336.40 L471.0 336.40 L471.5 336.40 L472.0 336.40 L472.5 336.40 L473.0 336.40 L473.5 336.40 L474.0 336.40 L474.5 336.40 L475.0 336.40 L475.5 336.40 L476.0 336.40 L476.5 336.40 L477.0 336.40 L477.5 336.40 L478.0 336.40 L478.5 336.40 L479.0 336.40 L479.5 336.40 L480.0 336.40 L480.5 336.40 L481.0 336.40 L481.5 336.40 L482.0 336.40 L482.5 336.40 L483.0 336.40 L483.5 336.40 L484.0 336.40 L484.5 336.40 L485.0 336.40 L485.5 336.40 L486.0 336.40 L486.5 336.40 L487.0 336.40 L487.5 336.40 L488.0 336.40 L488.5 336.40 L489.0 336.40 L489.5 336.40 L490.0 336.40 L490.5 336.40 L491.0 336.40 L491.5 336.40 L492.0 336.40 L492.5 336.40 L493.0 336.40 L493.5 336.40 L494.0 336.40 L494.5 336.40 L495.0 336.40 L495.5 336.40 L496.0 336.40 L496.5 336.40 L497.0 336.40 L497.5 336.40 L498.0 336.40 L498.5 336.40 L499.0 336.40 L499.5 336.40 L500.0 336.40 L500.5 336.40 L501.0 336.40 L501.5 336.40 L502.0 336.40 L502.5 336.40 L503.0 336.40 L503.5 336.40 L504.0 336.40 L504.5 336.40 L505.0 336.40 L505.5 336.40 L506.0 336.40 L506.5 336.40 L507.0 336.40 L507.5 336.40 L508.0 336.40 L508.5 336.40 L509.0 336.40 L509.5 336.40 L510.0 336.40 L510.5 336.40 L511.0 336.40 L511.5 336.40 L512.0 336.40 L512.5 336.40 L513.0 336.40 L513.5 336.40 L514.0 336.40 L514.5 336.40 L515.0 336.40 L515.5 336.40 L516.0 336.40 L516.5 336.40 L517.0 336.40 L517.5 336.40 L518.0 336.40 L518.5 336.40 L519.0 336.40 L519.5 336.40 L520.0 336.40 L520.5 336.40 L521.0 336.40 L521.5 336.40 L522.0 336.40 L522.5 336.40 L523.0 336.40 L523.5 336.40 L524.0 336.40 L524.5 336.40 L525.0 336.40 L525.5 336.40 L526.0 336.40 L526.5 336.40 L527.0 336.40 L527.5 336.40 L528.0 336.40 L528.5 336.40 L529.0 336.40 L529.5 336.40 L530.0 336.40 L530.5 336.40 L531.0 336.40 L531.5 336.40 L532.0 336.40 L532.5 336.40 L533.0 336.40 L533.5 336.40 L534.0 336.40 L534.5 336.40 L535.0 336.40" stroke="#fa4f12" stroke-dasharray="6 6" stroke-width="1.55"/>
<path d="M68.0 336.40 L68.5 336.40 L69.0 336.40 L69.5 336.40 L70.0 336.40 L70.5 336.39 L71.0 336.39 L71.5 336.39 L72.0 336.39 L72.5 336.39 L73.0 336.39 L73.5 336.39 L74.0 336.39 L74.5 336.38 L75.0 336.38 L75.5 336.38 L76.0 336.38 L76.5 336.38 L77.0 336.38 L77.5 336.37 L78.0 336.37 L78.5 336.37 L79.0 336.37 L79.5 336.37 L80.0 336.36 L80.5 336.36 L81.0 336.36 L81.5 336.36 L82.0 336.35 L82.5 336.35 L83.0 336.35 L83.5 336.35 L84.0 336.34 L84.5 336.34 L85.0 336.34 L85.5 336.34 L86.0 336.33 L86.5 336.33 L87.0 336.33 L87.5 336.32 L88.0 336.32 L88.5 336.32 L89.0 336.32 L89.5 336.31 L90.0 336.31 L90.5 336.31 L91.0 336.30 L91.5 336.30 L92.0 336.30 L92.5 336.29 L93.0 336.29 L93.5 336.29 L94.0 336.28 L94.5 336.28 L95.0 336.28 L95.5 336.27 L96.0 336.27 L96.5 336.26 L97.0 336.26 L97.5 336.25 L98.0 336.25 L98.5 336.24 L99.0 336.24 L99.5 336.23 L100.0 336.22 L100.5 336.22 L101.0 336.21 L101.5 336.20 L102.0 336.19 L102.5 336.18 L103.0 336.18 L103.5 336.17 L104.0 336.16 L104.5 336.15 L105.0 336.14 L105.5 336.13 L106.0 336.12 L106.5 336.11 L107.0 336.10 L107.5 336.09 L108.0 336.08 L108.5 336.07 L109.0 336.05 L109.5 336.04 L110.0 336.03 L110.5 336.02 L111.0 336.01 L111.5 336.00 L112.0 335.98 L112.5 335.97 L113.0 335.96 L113.5 335.94 L114.0 335.93 L114.5 335.92 L115.0 335.91 L115.5 335.89 L116.0 335.88 L116.5 335.86 L117.0 335.84 L117.5 335.83 L118.0 335.81 L118.5 335.79 L119.0 335.77 L119.5 335.75 L120.0 335.73 L120.5 335.71 L121.0 335.69 L121.5 335.66 L122.0 335.64 L122.5 335.62 L123.0 335.59 L123.5 335.57 L124.0 335.55 L124.5 335.52 L125.0 335.50 L125.5 335.47 L126.0 335.44 L126.5 335.42 L127.0 335.39 L127.5 335.36 L128.0 335.34 L128.5 335.31 L129.0 335.28 L129.5 335.26 L130.0 335.23 L130.5 335.20 L131.0 335.17 L131.5 335.14 L132.0 335.11 L132.5 335.08 L133.0 335.05 L133.5 335.02 L134.0 334.98 L134.5 334.95 L135.0 334.91 L135.5 334.88 L136.0 334.84 L136.5 334.81 L137.0 334.77 L137.5 334.73 L138.0 334.69 L138.5 334.66 L139.0 334.62 L139.5 334.58 L140.0 334.54 L140.5 334.50 L141.0 334.45 L141.5 334.41 L142.0 334.37 L142.5 334.32 L143.0 334.28 L143.5 334.23 L144.0 334.19 L144.5 334.14 L145.0 334.09 L145.5 334.04 L146.0 333.99 L146.5 333.94 L147.0 333.89 L147.5 333.84 L148.0 333.79 L148.5 333.73 L149.0 333.67 L149.5 333.62 L150.0 333.56 L150.5 333.50 L151.0 333.44 L151.5 333.38 L152.0 333.32 L152.5 333.25 L153.0 333.18 L153.5 333.12 L154.0 333.05 L154.5 332.97 L155.0 332.90 L155.5 332.83 L156.0 332.75 L156.5 332.67 L157.0 332.59 L157.5 332.51 L158.0 332.43 L158.5 332.35 L159.0 332.26 L159.5 332.18 L160.0 332.09 L160.5 332.00 L161.0 331.91 L161.5 331.82 L162.0 331.73 L162.5 331.64 L163.0 331.54 L163.5 331.44 L164.0 331.34 L164.5 331.23 L165.0 331.12 L165.5 331.01 L166.0 330.90 L166.5 330.79 L167.0 330.67 L167.5 330.56 L168.0 330.44 L168.5 330.32 L169.0 330.20 L169.5 330.08 L170.0 329.95 L170.5 329.83 L171.0 329.71 L171.5 329.59 L172.0 329.46 L172.5 329.34 L173.0 329.22 L173.5 329.10 L174.0 328.98 L174.5 328.86 L175.0 328.74 L175.5 328.62 L176.0 328.49 L176.5 328.37 L177.0 328.25 L177.5 328.13 L178.0 328.00 L178.5 327.87 L179.0 327.75 L179.5 327.62 L180.0 327.48 L180.5 327.35 L181.0 327.21 L181.5 327.07 L182.0 326.93 L182.5 326.79 L183.0 326.64 L183.5 326.49 L184.0 326.33 L184.5 326.17 L185.0 326.01 L185.5 325.83 L186.0 325.66 L186.5 325.48 L187.0 325.30 L187.5 325.11 L188.0 324.92 L188.5 324.73 L189.0 324.53 L189.5 324.33 L190.0 324.13 L190.5 323.93 L191.0 323.72 L191.5 323.52 L192.0 323.31 L192.5 323.10 L193.0 322.90 L193.5 322.69 L194.0 322.48 L194.5 322.27 L195.0 322.07 L195.5 321.86 L196.0 321.64 L196.5 321.43 L197.0 321.21 L197.5 320.98 L198.0 320.76 L198.5 320.53 L199.0 320.30 L199.5 320.08 L200.0 319.85 L200.5 319.62 L201.0 319.39 L201.5 319.16 L202.0 318.93 L202.5 318.70 L203.0 318.48 L203.5 318.25 L204.0 318.03 L204.5 317.81 L205.0 317.59 L205.5 317.38 L206.0 317.17 L206.5 316.96 L207.0 316.75 L207.5 316.53 L208.0 316.32 L208.5 316.10 L209.0 315.88 L209.5 315.66 L210.0 315.45 L210.5 315.23 L211.0 315.02 L211.5 314.80 L212.0 314.59 L212.5 314.39 L213.0 314.18 L213.5 313.98 L214.0 313.78 L214.5 313.59 L215.0 313.40 L215.5 313.21 L216.0 313.03 L216.5 312.86 L217.0 312.69 L217.5 312.53 L218.0 312.38 L218.5 312.23 L219.0 312.09 L219.5 311.95 L220.0 311.80 L220.5 311.65 L221.0 311.51 L221.5 311.36 L222.0 311.21 L222.5 311.06 L223.0 310.92 L223.5 310.78 L224.0 310.65 L224.5 310.52 L225.0 310.40 L225.5 310.29 L226.0 310.18 L226.5 310.09 L227.0 310.00 L227.5 309.93 L228.0 309.87 L228.5 309.83 L229.0 309.80 L229.5 309.78 L230.0 309.78 L230.5 309.79 L231.0 309.82 L231.5 309.85 L232.0 309.89 L232.5 309.94 L233.0 310.01 L233.5 310.08 L234.0 310.16 L234.5 310.24 L235.0 310.34 L235.5 310.44 L236.0 310.55 L236.5 310.67 L237.0 310.79 L237.5 310.92 L238.0 311.06 L238.5 311.20 L239.0 311.34 L239.5 311.49 L240.0 311.65 L240.5 311.81 L241.0 311.99 L241.5 312.24 L242.0 312.54 L242.5 312.89 L243.0 313.29 L243.5 313.73 L244.0 314.21 L244.5 314.72 L245.0 315.25 L245.5 315.80 L246.0 316.36 L246.5 316.94 L247.0 317.51 L247.5 318.08 L248.0 318.64 L248.5 319.19 L249.0 319.72 L249.5 320.23 L250.0 320.79 L250.5 321.39 L251.0 322.01 L251.5 322.63 L252.0 323.24 L252.5 323.79 L253.0 324.29 L253.5 324.70 L254.0 325.00 L254.5 325.24 L255.0 325.47 L255.5 325.69 L256.0 325.89 L256.5 326.08 L257.0 326.23 L257.5 326.36 L258.0 326.45 L258.5 326.50 L259.0 326.51 L259.5 326.47 L260.0 326.37 L260.5 326.24 L261.0 326.08 L261.5 325.91 L262.0 325.68 L262.5 325.37 L263.0 324.97 L263.5 324.50 L264.0 323.96 L264.5 323.37 L265.0 322.73 L265.5 322.05 L266.0 321.33 L266.5 320.46 L267.0 319.40 L267.5 318.20 L268.0 316.92 L268.5 315.60 L269.0 314.28 L269.5 312.94 L270.0 311.46 L270.5 309.92 L271.0 308.39 L271.5 306.95 L272.0 305.68 L272.5 304.58 L273.0 303.46 L273.5 302.33 L274.0 301.26 L274.5 300.31 L275.0 299.52 L275.5 298.97 L276.0 298.70 L276.5 298.76 L277.0 299.14 L277.5 299.76 L278.0 300.58 L278.5 301.52 L279.0 302.53 L279.5 303.56 L280.0 304.53 L280.5 305.40 L281.0 306.40 L281.5 307.53 L282.0 308.68 L282.5 309.69 L283.0 310.45 L283.5 310.80 L284.0 310.34 L284.5 308.83 L285.0 306.78 L285.5 303.23 L286.0 298.85 L286.5 294.80 L287.0 291.28 L287.5 287.86 L288.0 284.43 L288.5 280.86 L289.0 277.06 L289.5 273.33 L290.0 269.98 L290.5 267.11 L291.0 264.40 L291.5 262.00 L292.0 260.12 L292.5 258.77 L293.0 257.53 L293.5 256.46 L294.0 255.65 L294.5 255.20 L295.0 255.33 L295.5 255.93 L296.0 256.86 L296.5 258.01 L297.0 259.29 L297.5 260.80 L298.0 262.91 L298.5 265.46 L299.0 268.24 L299.5 271.25 L300.0 274.79 L300.5 278.59 L301.0 282.32 L301.5 285.81 L302.0 289.22 L302.5 292.67 L303.0 296.31 L303.5 300.62 L304.0 304.81 L304.5 307.72 L305.0 309.52 L305.5 310.69 L306.0 310.71 L306.5 310.18 L307.0 309.31 L307.5 308.23 L308.0 307.07 L308.5 305.97 L309.0 305.06 L309.5 304.15 L310.0 303.15 L310.5 302.12 L311.0 301.13 L311.5 300.23 L312.0 299.49 L312.5 298.96 L313.0 298.70 L313.5 298.77 L314.0 299.16 L314.5 299.81 L315.0 300.67 L315.5 301.68 L316.0 302.78 L316.5 303.91 L317.0 305.02 L317.5 306.16 L318.0 307.51 L318.5 308.99 L319.0 310.54 L319.5 312.07 L320.0 313.50 L320.5 314.80 L321.0 316.13 L321.5 317.44 L322.0 318.70 L322.5 319.84 L323.0 320.83 L323.5 321.63 L324.0 322.32 L324.5 322.99 L325.0 323.61 L325.5 324.18 L326.0 324.69 L326.5 325.14 L327.0 325.50 L327.5 325.79 L328.0 325.98 L328.5 326.15 L329.0 326.30 L329.5 326.42 L330.0 326.49 L330.5 326.52 L331.0 326.49 L331.5 326.42 L332.0 326.31 L332.5 326.17 L333.0 326.01 L333.5 325.82 L334.0 325.61 L334.5 325.38 L335.0 325.14 L335.5 324.89 L336.0 324.55 L336.5 324.10 L337.0 323.58 L337.5 323.00 L338.0 322.39 L338.5 321.76 L339.0 321.15 L339.5 320.56 L340.0 320.03 L340.5 319.51 L341.0 318.98 L341.5 318.42 L342.0 317.85 L342.5 317.28 L343.0 316.71 L343.5 316.14 L344.0 315.58 L344.5 315.03 L345.0 314.51 L345.5 314.02 L346.0 313.55 L346.5 313.13 L347.0 312.74 L347.5 312.41 L348.0 312.13 L348.5 311.91 L349.0 311.74 L349.5 311.59 L350.0 311.43 L350.5 311.29 L351.0 311.14 L351.5 311.00 L352.0 310.87 L352.5 310.74 L353.0 310.62 L353.5 310.51 L354.0 310.40 L354.5 310.30 L355.0 310.21 L355.5 310.12 L356.0 310.05 L356.5 309.98 L357.0 309.92 L357.5 309.87 L358.0 309.83 L358.5 309.81 L359.0 309.79 L359.5 309.78 L360.0 309.78 L360.5 309.81 L361.0 309.84 L361.5 309.89 L362.0 309.96 L362.5 310.04 L363.0 310.12 L363.5 310.22 L364.0 310.33 L364.5 310.45 L365.0 310.57 L365.5 310.70 L366.0 310.84 L366.5 310.98 L367.0 311.12 L367.5 311.27 L368.0 311.42 L368.5 311.56 L369.0 311.71 L369.5 311.86 L370.0 312.00 L370.5 312.14 L371.0 312.29 L371.5 312.44 L372.0 312.59 L372.5 312.76 L373.0 312.93 L373.5 313.10 L374.0 313.29 L374.5 313.47 L375.0 313.66 L375.5 313.86 L376.0 314.06 L376.5 314.26 L377.0 314.47 L377.5 314.68 L378.0 314.89 L378.5 315.10 L379.0 315.32 L379.5 315.53 L380.0 315.75 L380.5 315.97 L381.0 316.19 L381.5 316.40 L382.0 316.62 L382.5 316.83 L383.0 317.05 L383.5 317.26 L384.0 317.47 L384.5 317.68 L385.0 317.90 L385.5 318.12 L386.0 318.34 L386.5 318.57 L387.0 318.79 L387.5 319.02 L388.0 319.25 L388.5 319.48 L389.0 319.71 L389.5 319.94 L390.0 320.17 L390.5 320.40 L391.0 320.62 L391.5 320.85 L392.0 321.07 L392.5 321.29 L393.0 321.51 L393.5 321.73 L394.0 321.94 L394.5 322.15 L395.0 322.36 L395.5 322.56 L396.0 322.77 L396.5 322.98 L397.0 323.19 L397.5 323.40 L398.0 323.60 L398.5 323.81 L399.0 324.01 L399.5 324.21 L400.0 324.41 L400.5 324.61 L401.0 324.80 L401.5 325.00 L402.0 325.19 L402.5 325.37 L403.0 325.55 L403.5 325.73 L404.0 325.90 L404.5 326.07 L405.0 326.24 L405.5 326.39 L406.0 326.55 L406.5 326.70 L407.0 326.85 L407.5 326.99 L408.0 327.13 L408.5 327.27 L409.0 327.40 L409.5 327.54 L410.0 327.67 L410.5 327.80 L411.0 327.92 L411.5 328.05 L412.0 328.18 L412.5 328.30 L413.0 328.42 L413.5 328.54 L414.0 328.66 L414.5 328.78 L415.0 328.91 L415.5 329.03 L416.0 329.15 L416.5 329.27 L417.0 329.39 L417.5 329.51 L418.0 329.64 L418.5 329.76 L419.0 329.88 L419.5 330.00 L420.0 330.12 L420.5 330.25 L421.0 330.37 L421.5 330.48 L422.0 330.60 L422.5 330.72 L423.0 330.83 L423.5 330.95 L424.0 331.06 L424.5 331.17 L425.0 331.27 L425.5 331.38 L426.0 331.48 L426.5 331.58 L427.0 331.67 L427.5 331.77 L428.0 331.86 L428.5 331.95 L429.0 332.04 L429.5 332.13 L430.0 332.21 L430.5 332.30 L431.0 332.38 L431.5 332.47 L432.0 332.55 L432.5 332.63 L433.0 332.70 L433.5 332.78 L434.0 332.86 L434.5 332.93 L435.0 333.00 L435.5 333.07 L436.0 333.14 L436.5 333.21 L437.0 333.28 L437.5 333.34 L438.0 333.40 L438.5 333.47 L439.0 333.52 L439.5 333.58 L440.0 333.64 L440.5 333.70 L441.0 333.75 L441.5 333.81 L442.0 333.86 L442.5 333.91 L443.0 333.96 L443.5 334.01 L444.0 334.06 L444.5 334.11 L445.0 334.16 L445.5 334.21 L446.0 334.25 L446.5 334.30 L447.0 334.34 L447.5 334.39 L448.0 334.43 L448.5 334.47 L449.0 334.51 L449.5 334.55 L450.0 334.59 L450.5 334.63 L451.0 334.67 L451.5 334.71 L452.0 334.75 L452.5 334.78 L453.0 334.82 L453.5 334.86 L454.0 334.89 L454.5 334.93 L455.0 334.96 L455.5 335.00 L456.0 335.03 L456.5 335.06 L457.0 335.09 L457.5 335.12 L458.0 335.15 L458.5 335.18 L459.0 335.21 L459.5 335.24 L460.0 335.27 L460.5 335.29 L461.0 335.32 L461.5 335.35 L462.0 335.38 L462.5 335.40 L463.0 335.43 L463.5 335.45 L464.0 335.48 L464.5 335.51 L465.0 335.53 L465.5 335.56 L466.0 335.58 L466.5 335.60 L467.0 335.63 L467.5 335.65 L468.0 335.67 L468.5 335.70 L469.0 335.72 L469.5 335.74 L470.0 335.76 L470.5 335.78 L471.0 335.80 L471.5 335.82 L472.0 335.83 L472.5 335.85 L473.0 335.87 L473.5 335.88 L474.0 335.90 L474.5 335.91 L475.0 335.92 L475.5 335.94 L476.0 335.95 L476.5 335.96 L477.0 335.98 L477.5 335.99 L478.0 336.00 L478.5 336.01 L479.0 336.02 L479.5 336.04 L480.0 336.05 L480.5 336.06 L481.0 336.07 L481.5 336.08 L482.0 336.09 L482.5 336.10 L483.0 336.11 L483.5 336.12 L484.0 336.13 L484.5 336.14 L485.0 336.15 L485.5 336.16 L486.0 336.17 L486.5 336.18 L487.0 336.19 L487.5 336.20 L488.0 336.20 L488.5 336.21 L489.0 336.22 L489.5 336.23 L490.0 336.23 L490.5 336.24 L491.0 336.24 L491.5 336.25 L492.0 336.26 L492.5 336.26 L493.0 336.27 L493.5 336.27 L494.0 336.27 L494.5 336.28 L495.0 336.28 L495.5 336.28 L496.0 336.29 L496.5 336.29 L497.0 336.29 L497.5 336.30 L498.0 336.30 L498.5 336.30 L499.0 336.31 L499.5 336.31 L500.0 336.31 L500.5 336.32 L501.0 336.32 L501.5 336.32 L502.0 336.33 L502.5 336.33 L503.0 336.33 L503.5 336.33 L504.0 336.34 L504.5 336.34 L505.0 336.34 L505.5 336.35 L506.0 336.35 L506.5 336.35 L507.0 336.35 L507.5 336.36 L508.0 336.36 L508.5 336.36 L509.0 336.36 L509.5 336.36 L510.0 336.37 L510.5 336.37 L511.0 336.37 L511.5 336.37 L512.0 336.37 L512.5 336.38 L513.0 336.38 L513.5 336.38 L514.0 336.38 L514.5 336.38 L515.0 336.38 L515.5 336.39 L516.0 336.39 L516.5 336.39 L517.0 336.39 L517.5 336.39 L518.0 336.39 L518.5 336.39 L519.0 336.39 L519.5 336.40 L520.0 336.40 L520.5 336.40 L521.0 336.40 L521.5 336.40 L522.0 336.40 L522.5 336.40 L523.0 336.40 L523.5 336.40 L524.0 336.40 L524.5 336.40 L525.0 336.40 L525.5 336.40 L526.0 336.40 L526.5 336.40 L527.0 336.40 L527.5 336.40 L528.0 336.40 L528.5 336.40 L529.0 336.40 L529.5 336.40 L530.0 336.40 L530.5 336.40 L531.0 336.40 L531.5 336.40 L532.0 336.40 L532.5 336.40 L533.0 336.40 L533.5 336.40 L534.0 336.40 L534.5 336.40 L535.0 336.40" stroke="#0000ff" stroke-dasharray="6.2 1.1 3.4 1.1" stroke-width="1.8"/>
</g>
<g font-family="DejaVu Sans, sans-serif" font-size="16.5" fill="#1a1a1a" stroke="#1a1a1a" stroke-width="0.5" text-anchor="middle">
<text x="55.9" y="342.0">0</text>
<text x="55.9" y="281.4">1</text>
<text x="55.9" y="220.7">2</text>
<text x="55.9" y="160.1">3</text>
<text x="55.9" y="99.4">4</text>
<text x="55.9" y="38.8">5</text>
</g>
<text y="26.5" font-family="DejaVu Sans, sans-serif" font-size="16.5" fill="#1a1a1a" stroke="#1a1a1a" stroke-width="0.35" text-anchor="middle"><tspan x="75.8" stroke-width="0">×</tspan><tspan x="89.9 101.35">10</tspan><tspan x="112.6" y="17.6" font-size="13.5" stroke-width="0.6">4</tspan></text>
<g font-family="DejaVu Sans, sans-serif" font-size="16.5" fill="#1a1a1a" text-anchor="middle" stroke="#1a1a1a" stroke-width="0.5">
<text y="359.3"><tspan x="103.90" y="357.9" font-size="12.5" stroke-width="0.6">−</tspan><tspan x="115.40 127.30 139.20 151.10" y="359.3">0.03</tspan></text>
<text y="359.3"><tspan x="180.75" y="357.9" font-size="12.5" stroke-width="0.6">−</tspan><tspan x="192.25 204.15 216.05 227.95 239.85" y="359.3">0.015</tspan></text>
<text y="359.3"><tspan x="292.90" y="359.3">0</tspan></text>
<text y="359.3"><tspan x="351.90 363.80 375.70 387.60 399.50" y="359.3">0.015</tspan></text>
<text y="359.3"><tspan x="440.65 452.55 464.45 476.35" y="359.3">0.03</tspan></text>
</g>
<text y="380.8" font-family="DejaVu Serif, serif" font-size="15.5" fill="#111" stroke="#111" stroke-width="0.7" text-anchor="middle"><tspan x="271.35" y="380.9" font-size="17">u</tspan><tspan x="279.5"> </tspan><tspan x="286.2" y="382.0" font-size="16">(</tspan><tspan x="296.45 309.9" y="380.8">mm</tspan><tspan x="321.9" y="382.0" font-size="16">)</tspan></text>
<text transform="rotate(-90)" y="31.0" font-family="DejaVu Serif, serif" font-size="18" fill="#111" stroke="#111" stroke-width="0.85" text-anchor="middle"><tspan x="-226.15 -212 -201.85 -188.6 -176.45 -164.8">E(u,0)</tspan><tspan x="-150.3" y="30.4" font-size="20.5" stroke-width="0.75">/</tspan><tspan x="-138" y="31.0">E</tspan><tspan x="-125" y="39.6" font-family="DejaVu Sans, sans-serif" font-size="13.5" stroke-width="0.3">0</tspan></text>
<rect x="363.2" y="55.6" width="146.5" height="87.7" fill="#fff" stroke="#b3b3b3" stroke-width="1.2"/>
<path d="M374 69.2H400.4" stroke="#000" stroke-width="1.8"/>
<text font-family="DejaVu Serif, serif" font-size="13.6" fill="#111" stroke="#111" stroke-width="0.85" text-anchor="middle" y="74.2"><tspan x="407.6">E</tspan><tspan x="417.6" y="82.8" font-family="DejaVu Sans, sans-serif" font-size="12" stroke-width="0.3">0</tspan><tspan x="426.85" y="74.2">=</tspan><tspan x="437.35 447.55 458.35" font-size="14.6" stroke-width="1.0">1e8</tspan><tspan x="465.7 473.0 482.5">&#160;V/</tspan><tspan x="492.2" font-family="DejaVu Serif Condensed, serif">m</tspan></text>
<path d="M374 97.2H400.4" stroke="#fa4f12" stroke-width="1.6" stroke-dasharray="6 6"/>
<text font-family="DejaVu Serif, serif" font-size="13.6" fill="#111" stroke="#111" stroke-width="0.85" text-anchor="middle" y="102.2"><tspan x="407.6">E</tspan><tspan x="417.6" y="110.8" font-family="DejaVu Sans, sans-serif" font-size="12" stroke-width="0.3">0</tspan><tspan x="426.85" y="102.2">=</tspan><tspan x="437.35 447.55 458.35" font-size="14.6" stroke-width="1.0">5e8</tspan><tspan x="465.7 473.0 482.5">&#160;V/</tspan><tspan x="492.2" font-family="DejaVu Serif Condensed, serif">m</tspan></text>
<path d="M374 125.2H400.4" stroke="#0000ff" stroke-width="1.6" stroke-dasharray="5.6 1.5 3.4 1.5"/>
<text font-family="DejaVu Serif, serif" font-size="13.6" fill="#111" stroke="#111" stroke-width="0.85" text-anchor="middle" y="130.2"><tspan x="407.6">E</tspan><tspan x="417.6" y="138.8" font-family="DejaVu Sans, sans-serif" font-size="12" stroke-width="0.3">0</tspan><tspan x="426.85" y="130.2">=</tspan><tspan x="437.35 447.55 458.35" font-size="14.6" stroke-width="1.0">1e9</tspan><tspan x="465.7 473.0 482.5">&#160;V/</tspan><tspan x="492.2" font-family="DejaVu Serif Condensed, serif">m</tspan></text>
</svg></body></html>
